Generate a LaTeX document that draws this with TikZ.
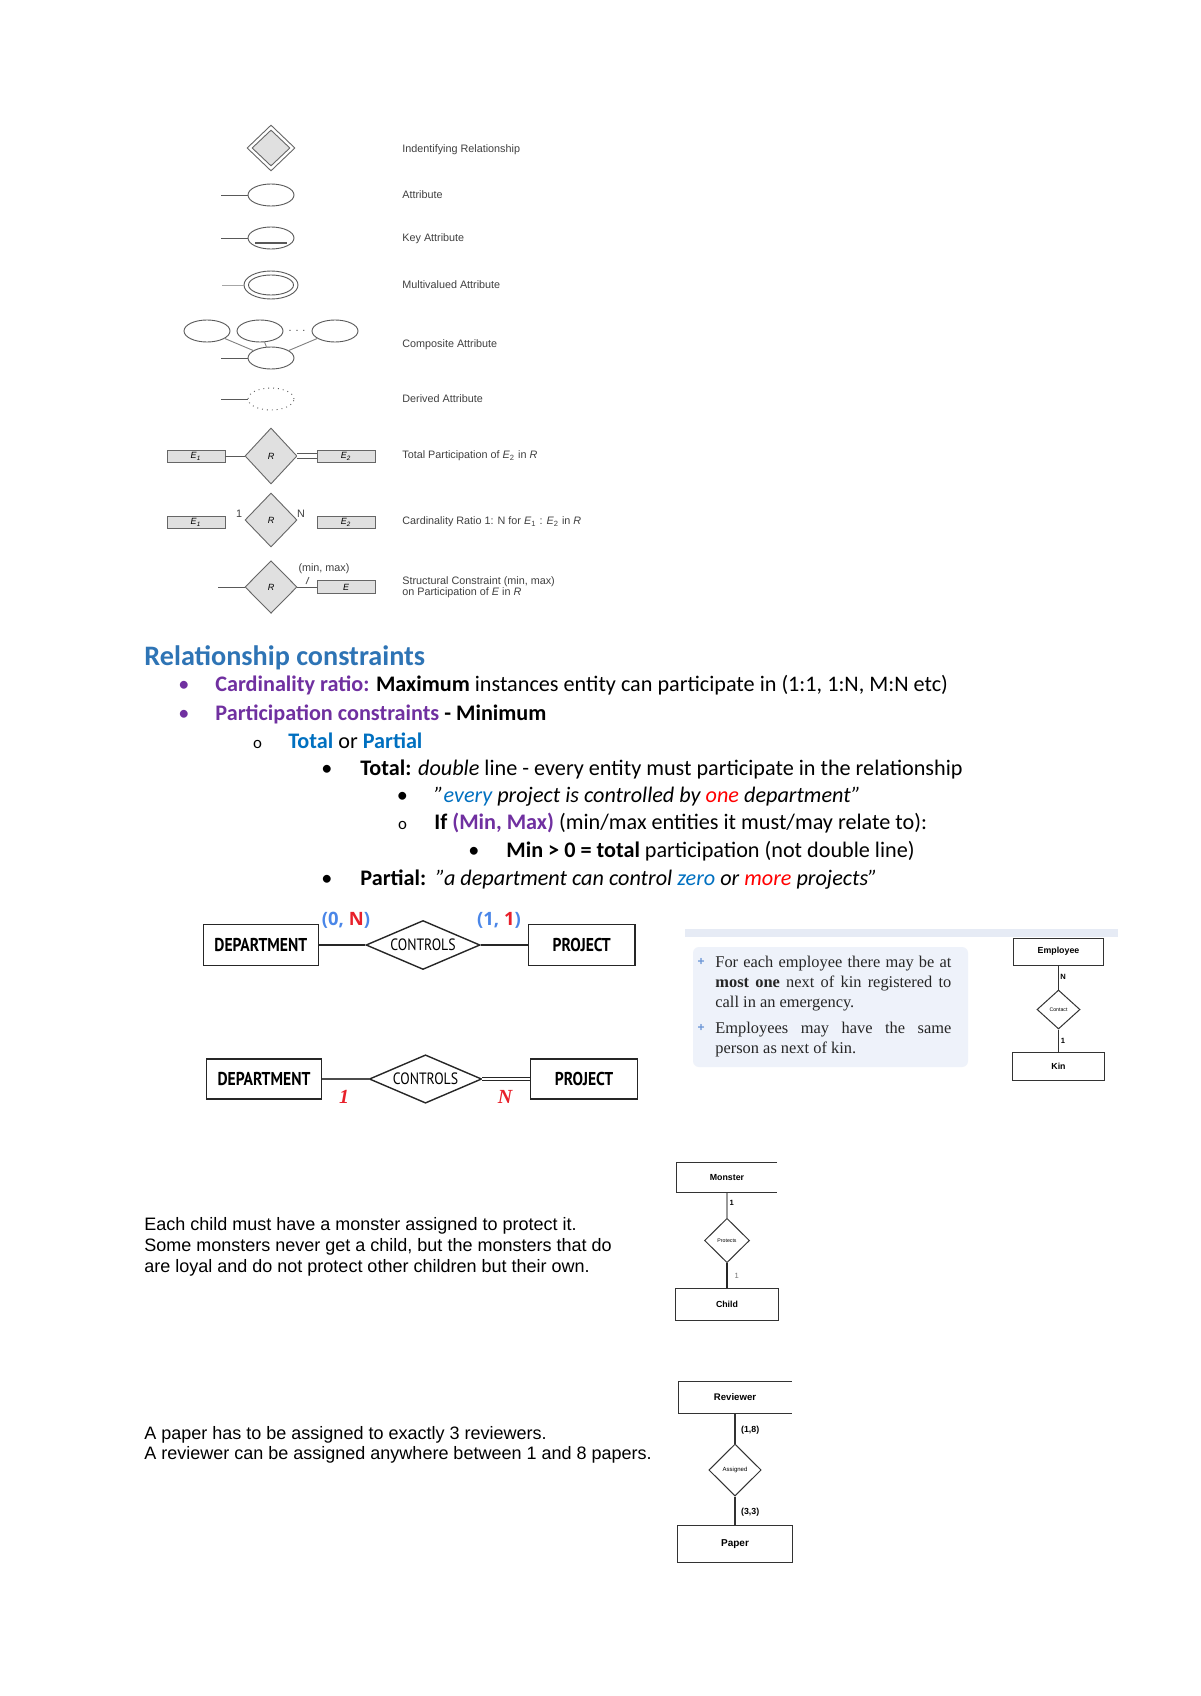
\documentclass[tikz,border=0pt]{standalone}
\usepackage{fontspec}
\setmainfont{Carlito}
\newfontfamily\lsans{Liberation Sans}
\newfontfamily\lserif{Liberation Serif}
\newfontfamily\condsans[FakeStretch=0.84]{PT Sans}
\newfontfamily\osans{Open Sans}
\usetikzlibrary{shapes.geometric}
\definecolor{purp}{HTML}{7030A0}
\definecolor{wblue}{HTML}{0070C0}
\definecolor{hblue}{HTML}{2E74B5}
\definecolor{lblue}{HTML}{4A86E8}
\definecolor{lred}{HTML}{E8202A}
\definecolor{panelbg}{HTML}{EEF2FA}
\definecolor{bandbg}{HTML}{E6EBF5}
\definecolor{plusblue}{HTML}{6A95D6}
\newcommand{\myfs}[2]{\fontsize{#1}{#2}\selectfont}
\tikzset{
 legline/.style={draw=black!65, line width=0.45pt},
 legell/.style={ellipse, draw=black!65, line width=0.45pt, inner sep=0, minimum width=23pt, minimum height=11pt},
 legtxt/.style={anchor=west, inner sep=0, font=\lsans\myfs{5.4}{6.5}, text=black!75},
 legbox/.style={rectangle, draw=black!60, fill=black!12, line width=0.45pt, minimum width=29pt, minimum height=6pt, inner sep=0, font=\lsans\itshape\myfs{4.5}{5}},
 legdia/.style={diamond, draw=black!60, fill=black!12, line width=0.45pt, minimum width=26pt, minimum height=28pt, inner sep=0, font=\lsans\itshape\myfs{4.5}{5}},
 body/.style={anchor=base west, inner sep=0, font=\myfs{11.1}{13.3}},
 bul/.style={anchor=base, inner sep=0, font=\myfs{11.1}{13.3}},
 obul/.style={anchor=base, inner sep=0, font=\myfs{8.4}{9}},
 erbox/.style={rectangle, draw=black!85, line width=0.7pt, inner sep=0, font=\condsans\bfseries\myfs{9.3}{10}},
 erdia/.style={diamond, shape aspect=2.33, draw=black!85, line width=0.7pt, inner sep=0, font=\condsans\myfs{8.2}{9}},
 erline/.style={draw=black!85, line width=1pt},
 cardlab/.style={inner sep=0, font=\osans\bfseries\myfs{9.2}{10}, text=lblue},
 redlab/.style={inner sep=0, font=\lserif\itshape\bfseries\myfs{10}{11}, text=lred},
 panel/.style={rectangle, rounded corners=3pt, fill=panelbg, inner sep=0},
 kintxt/.style={anchor=north west, inner sep=0, text width=118pt, align=justify, font=\lserif\myfs{8.2}{9.9}, text=black!85},
 plus/.style={inner sep=0, font=\lsans\bfseries\myfs{6}{7}, text=plusblue},
 tinybox/.style={rectangle, draw=black!80, line width=0.5pt, inner sep=0, font=\lsans\bfseries\myfs{4.4}{5}},
 tinydia/.style={diamond, draw=black!80, line width=0.5pt, inner sep=0, font=\lsans\myfs{2.6}{3}},
 tline/.style={draw=black!80, line width=0.5pt},
 tlab/.style={inner sep=0, font=\lsans\bfseries\myfs{3.8}{4.5}},
 ptxt/.style={anchor=base west, inner sep=0, font=\lsans\myfs{9}{10.5}},
}
\begin{document}
\begin{tikzpicture}[x=0.5pt,y=-0.5pt]
\useasboundingbox (0,0) rectangle (1200,1696);
\fill[white] (0,0) rectangle (1200,1696);

% ---------- legend ----------
\node[legdia, fill=none, minimum width=24pt, minimum height=23pt] (idro) at (271,148) {};
\node[legdia, minimum width=19pt, minimum height=18pt] (idri) at (271,148) {};
\node[legtxt] (t1) at (402,150) {Indentifying Relationship};

\coordinate (a1s) at (221,195);
\node[legell] (a1) at (271,195) {};
\draw[legline] (a1s) -- (a1.west);
\node[legtxt] (t2) at (402,195) {Attribute};

\coordinate (a2s) at (221,238);
\node[legell] (a2) at (271,238) {};
\draw[legline] (a2s) -- (a2.west);
\coordinate (k1) at (255,243);
\coordinate (k2) at (287,243);
\draw[black!65, line width=0.9pt] (k1) -- (k2);
\node[legtxt] (t3) at (402,239) {Key Attribute};

\coordinate (a3s) at (222,285);
\node[legell, minimum width=27pt, minimum height=14pt] (a3) at (271,285) {};
\node[legell, minimum width=22.5pt, minimum height=10pt] (a3i) at (271,285) {};
\draw[legline, draw=black!35] (a3s) -- (a3.west);
\node[legtxt] (t4) at (402,285) {Multivalued Attribute};

\node[legell] (c1) at (207,331) {};
\node[legell] (c2) at (260,331) {};
\node[legell] (c3) at (335,331) {};
\node[legtxt, anchor=center] (cdots) at (297,331) {. . .};
\node[legell] (cb) at (271,358) {};
\coordinate (c0) at (221,358);
\draw[legline] (c0) -- (cb.west);
\draw[legline, draw=black!50] (c1) -- (cb);
\draw[legline, draw=black!50] (c2) -- (cb);
\draw[legline, draw=black!50] (c3) -- (cb);
\node[legtxt] (t5) at (402,345) {Composite Attribute};

\coordinate (d0) at (221,399);
\node[legell, dotted] (d1) at (271,399) {};
\draw[legline] (d0) -- (d1.west);
\node[legtxt] (t6) at (402,399) {Derived Attribute};

\node[legbox] (e1a) at (196,456) {E\textsubscript{1}};
\node[legdia] (r1) at (271,456) {R};
\node[legbox] (e2a) at (346,456) {E\textsubscript{2}};
\draw[legline] (e1a) -- (r1);
\draw[legline, double, double distance=2pt] (r1) -- (e2a);
\node[legtxt] (t7) at (402,456) {Total Participation of \textit{E}\textsubscript{2} in \textit{R}};

\node[legbox] (e1b) at (196,522) {E\textsubscript{1}};
\node[legdia, minimum height=27pt] (r2) at (271,520) {R};
\node[legbox] (e2b) at (346,522) {E\textsubscript{2}};
\node[legtxt, anchor=center] (n1) at (239,514) {1};
\node[legtxt, anchor=center] (nN) at (301,514) {N};
\node[legtxt] (t8) at (402,522) {Cardinality Ratio 1: N for \textit{E}\textsubscript{1} : \textit{E}\textsubscript{2} in \textit{R}};

\coordinate (s0) at (218,587);
\node[legdia, minimum height=26.3pt] (r3) at (271,587) {R};
\node[legbox, minimum height=6.5pt] (e3) at (346,587) {E};
\draw[legline] (s0) -- (r3.west);
\draw[legline] (r3) -- (e3);
\node[legtxt, anchor=center] (mm) at (324,569) {(min, max)};
\coordinate (sl1) at (309,577);
\coordinate (sl2) at (306,584);
\draw[legline] (sl1) -- (sl2);
\node[legtxt] (t9) at (402,582) {Structural Constraint (min, max)};
\node[legtxt] (t10) at (402,593) {on Participation of \textit{E} in \textit{R}};

% ---------- heading and bullets ----------
\node[anchor=base west, inner sep=0, font=\bfseries\myfs{14.1}{16.5}, text=hblue] (head) at (144,665) {Relationship constraints};

\node[bul, text=purp] (b1) at (184,691.5) {•};
\node[body] (l1) at (215,691.5) {{\color{purp}\bfseries Cardinality ratio:} {\bfseries Maximum} instances entity can participate in (1:1, 1:N, M:N etc)};
\node[bul, text=purp] (b2) at (184,720.5) {•};
\node[body] (l2) at (215,720.5) {{\color{purp}\bfseries Participation constraints} {\bfseries - Minimum}};
\node[obul] (b3) at (257.5,748.5) {o};
\node[body] (l3) at (288,748.5) {{\color{wblue}\bfseries Total} or {\color{wblue}\bfseries Partial}};
\node[bul] (b4) at (327,775.5) {•};
\node[body] (l4) at (360,775.5) {{\bfseries Total:} \textit{double} line - every entity must participate in the relationship};
\node[bul] (b5) at (402.5,802.5) {•};
\node[body] (l5) at (434,802.5) {\textit{"{\color{wblue}every} project is controlled by {\color{red}one} department"}};
\node[obul] (b6) at (402.5,829.5) {o};
\node[body] (l6) at (434,829.5) {{\bfseries If} {\color{purp}\bfseries (Min, Max)} (min/max entities it must/may relate to):};
\node[bul] (b7) at (474,857) {•};
\node[body] (l7) at (506,857) {{\bfseries Min > 0 = total} participation (not double line)};
\node[bul] (b8) at (327,885) {•};
\node[body] (l8) at (360,885) {{\bfseries Partial:}\ \ \textit{"a department can control {\color{wblue}zero} or {\color{red}more} projects"}};

% ---------- DEPARTMENT / CONTROLS / PROJECT ----------
\node[erbox, minimum width=57.5pt, minimum height=20.7pt] (dep1) at (260.8,945) {DEPARTMENT};
\node[erdia, minimum width=57pt, minimum height=24.5pt] (ctl1) at (423,945) {CONTROLS};
\node[erbox, minimum width=53.3pt, minimum height=20.4pt] (prj1) at (581.7,945) {PROJECT};
\draw[erline] (dep1.east) -- (ctl1.west);
\draw[erline] (ctl1.east) -- (prj1.west);
\node[cardlab] (cl1) at (346,920.5) {(0, \textcolor{lred}{N})};
\node[cardlab] (cl2) at (499,920.5) {(1, \textcolor{lred}{1})};

\node[erbox, minimum width=57.5pt, minimum height=20pt] (dep2) at (264,1079) {DEPARTMENT};
\node[erdia, minimum width=56.2pt, minimum height=24.2pt] (ctl2) at (425.5,1079) {CONTROLS};
\node[erbox, minimum width=53.3pt, minimum height=20pt] (prj2) at (584,1079) {PROJECT};
\draw[draw=black!70, line width=0.6pt] (dep2.east) -- (ctl2.west);
\draw[draw=black!85, line width=0.6pt, double, double distance=1.2pt] (ctl2.east) -- (prj2.west);
\node[redlab] (rl1) at (344,1096.7) {1};
\node[redlab] (rl2) at (505,1096.7) {N};

% ---------- Employee / Kin ----------
\fill[bandbg] (685,929) rectangle (1118,937);
\node[panel, minimum width=137.5pt, minimum height=60pt] (kinpanel) at (830.5,1007) {};
\node[plus] (p1) at (701,962) {+};
\node[plus] (p2) at (701,1028) {+};
\node[kintxt] (k1t) at (715,956) {For each employee there may be at\linebreak \textbf{most one} next of kin registered to\linebreak call in an emergency.};
\node[kintxt] (k2t) at (715,1022) {Employees may have the same\linebreak person as next of kin.};

\node[tinybox, minimum width=45pt, minimum height=13.3pt] (emp) at (1058.5,951.7) {Employee};
\node[tinydia, minimum width=21.5pt, minimum height=19.5pt] (cont) at (1058.5,1009.5) {Contact};
\node[tinybox, minimum width=46pt, minimum height=14.3pt] (kin) at (1058.5,1066.3) {Kin};
\draw[tline] (emp) -- (cont);
\draw[tline] (cont) -- (kin);
\node[tlab] (eN) at (1063,977) {N};
\node[tlab] (e1) at (1063,1040.7) {1};

% ---------- Monster / Child ----------
\node[ptxt] (m1) at (144,1230.5) {Each child must have a monster assigned to protect it.};
\node[ptxt] (m2) at (144,1251) {Some monsters never get a child, but the monsters that do};
\node[ptxt] (m3) at (144,1272.5) {are loyal and do not protect other children but their own.};

\node[tinybox, draw=none, minimum width=49.7pt, minimum height=14.8pt] (mon) at (727,1177.5) {Monster};
\draw[tline] (mon.north east) -- (mon.north west) -- (mon.south west) -- (mon.south east);
\node[tinydia, minimum width=22.5pt, minimum height=22.2pt] (prot) at (727,1240.5) {Protects};
\node[tinybox, minimum width=51.2pt, minimum height=16.2pt] (child) at (727,1304.5) {Child};
\draw[draw=black!40, line width=0.6pt] (mon.south) -- (prot.north);
\draw[draw=black!85, line width=1.3pt] (prot.south) -- (child.north);
\node[tlab] (mo1) at (731.7,1203.3) {1};
\node[tlab, font=\lsans\myfs{3.8}{4.5}, text=black!55] (mo2) at (736.7,1276) {1};

% ---------- Reviewer / Paper ----------
\node[ptxt] (rv1) at (144,1439) {A paper has to be assigned to exactly 3 reviewers.};
\node[ptxt] (rv2) at (144,1459.7) {A reviewer can be assigned anywhere between 1 and 8 papers.};

\node[tinybox, draw=none, minimum width=56.3pt, minimum height=15.8pt, font=\lsans\bfseries\myfs{4.8}{5.5}] (rev) at (735,1397.5) {Reviewer};
\draw[tline] (rev.north east) -- (rev.north west) -- (rev.south west) -- (rev.south east);
\node[tinydia, minimum width=26.2pt, minimum height=26pt, font=\lsans\myfs{3}{3.5}] (asg) at (735,1470) {Assigned};
\node[tinybox, minimum width=57.2pt, minimum height=18.8pt, font=\lsans\bfseries\myfs{5}{6}] (pap) at (735,1543.8) {Paper};
\draw[tline, line width=0.7pt] (rev.south) -- (asg.north);
\draw[tline, line width=0.7pt] (asg.south) -- (pap.north);
\node[tlab, anchor=west, font=\lsans\bfseries\myfs{4.4}{5}] (c18) at (740.7,1430.7) {(1,8)};
\node[tlab, anchor=west, font=\lsans\bfseries\myfs{4.4}{5}] (c33) at (740.7,1512.7) {(3,3)};
\end{tikzpicture}
\end{document}
